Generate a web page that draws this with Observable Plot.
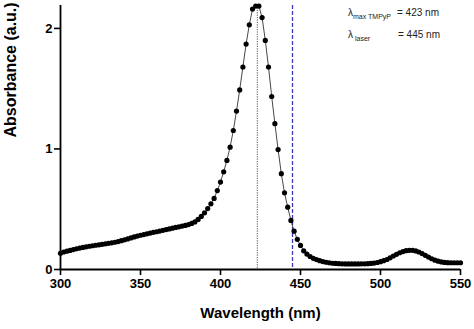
<!DOCTYPE html>
<html>
<head>
<meta charset="utf-8">
<script src="https://cdn.jsdelivr.net/npm/d3@7"></script>
<script src="https://cdn.jsdelivr.net/npm/@observablehq/plot@0.6"></script>
<style>
  html, body { margin: 0; padding: 0; background: #fff; }
  svg { font-family: "Liberation Sans", Arial, sans-serif; }
</style>
</head>
<body>
<div id="chart"></div>
<script>
const wavelength = [
  300,302,304,306,308,310,312,314,316,318,320,322,324,326,328,330,332,334,336,338,
  340,342,344,346,348,350,352,354,356,358,360,362,364,366,368,370,372,374,376,378,
  380,382,384,386,388,390,392,394,396,398,400,402,404,406,408,410,412,414,416,418,
  420,422,424,426,428,430,432,434,436,438,440,442,444,446,448,450,452,454,456,458,
  460,462,464,466,468,470,472,474,476,478,480,482,484,486,488,490,492,494,496,498,
  500,502,504,506,508,510,512,514,516,518,520,522,524,526,528,530,532,534,536,538,
  540,542,544,546,548,550
];
const absorbance = [
  0.135,0.145,0.152,0.158,0.165,0.172,0.178,0.183,0.188,0.193,0.197,0.201,0.205,0.209,0.213,0.217,0.221,0.226,0.232,0.239,
  0.246,0.254,0.262,0.270,0.277,0.284,0.290,0.296,0.302,0.308,0.313,0.319,0.325,0.331,0.337,0.343,0.349,0.354,0.360,0.366,
  0.373,0.382,0.395,0.415,0.440,0.470,0.505,0.545,0.590,0.655,0.725,0.810,0.905,1.015,1.153,1.314,1.490,1.680,1.870,2.030,
  2.160,2.185,2.185,2.090,1.900,1.680,1.435,1.210,0.995,0.795,0.636,0.517,0.407,0.318,0.250,0.200,0.155,0.128,0.108,0.093,
  0.082,0.073,0.066,0.060,0.056,0.052,0.050,0.048,0.047,0.046,0.046,0.046,0.046,0.046,0.047,0.047,0.048,0.050,0.053,0.058,
  0.065,0.073,0.083,0.097,0.112,0.126,0.139,0.149,0.156,0.159,0.159,0.154,0.145,0.132,0.118,0.103,0.089,0.077,0.069,0.063,
  0.059,0.057,0.056,0.056,0.056,0.056
];
const xTicks = [300, 350, 400, 450, 500, 550];
const yTicks = [0, 1, 2];
const lambdaMax = 423;
const lambdaLaser = 445;
const xTitle = "Wavelength (nm)";
const yTitle = "Absorbance (a.u.)";

const data = wavelength.map((w, i) => ({w, a: absorbance[i]}));

const chart = Plot.plot({
  width: 474,
  height: 329,
  marginLeft: 60,
  marginRight: 14,
  marginTop: 5,
  marginBottom: 60,
  style: {fontFamily: "Liberation Sans, Arial, sans-serif", background: "#fff"},
  x: {domain: [300, 550]},
  y: {domain: [0, 2.19]},
  marks: [
    Plot.ruleX([lambdaMax], {stroke: "#555", strokeWidth: 1, strokeDasharray: "1.2,1.2"}),
    Plot.ruleX([lambdaLaser], {stroke: "#3a3ab8", strokeWidth: 1.3, strokeDasharray: "4,2"}),
    Plot.line(data, {x: "w", y: "a", stroke: "#333", strokeWidth: 0.9}),
    Plot.dot(data, {x: "w", y: "a", fill: "#000", r: 2.6, stroke: "none"}),
    Plot.axisX({ticks: xTicks, tickFormat: d => String(d), tickSize: 6, tickPadding: 3, fontSize: 13, fontWeight: "bold", label: null, strokeWidth: 1.6, fill: "#000"}),
    Plot.axisY({ticks: yTicks, tickFormat: d => String(d), tickSize: 6, tickPadding: 2, fontSize: 13, fontWeight: "bold", label: null, strokeWidth: 1.6, fill: "#000"}),
    Plot.ruleX([300], {stroke: "#000", strokeWidth: 1.8}),
    Plot.ruleY([0], {stroke: "#000", strokeWidth: 1.8}),
    Plot.text([xTitle], {frameAnchor: "bottom", dy: 48, fontSize: 15, fontWeight: "bold", fill: "#000"}),
    Plot.text([yTitle], {frameAnchor: "left", dx: -50, rotate: -90, fontSize: 16, fontWeight: "bold", fill: "#000"})
  ]
});

const svg = d3.select(chart);
const g = svg.append("g").attr("fill", "#222").attr("font-size", 10).attr("text-anchor", "start");
const t1 = g.append("text").attr("x", 348).attr("y", 16);
t1.append("tspan").text("λ");
t1.append("tspan").attr("font-size", 7).attr("dy", 3).text("max TMPyP");
g.append("text").attr("x", 397).attr("y", 16).text("= " + lambdaMax + " nm");
const t2 = g.append("text").attr("x", 348).attr("y", 38);
t2.append("tspan").text("λ");
t2.append("tspan").attr("font-size", 7).attr("dy", 3).text(" laser");
g.append("text").attr("x", 398).attr("y", 38).text("= " + lambdaLaser + " nm");

document.getElementById("chart").appendChild(chart);
</script>
</body>
</html>
